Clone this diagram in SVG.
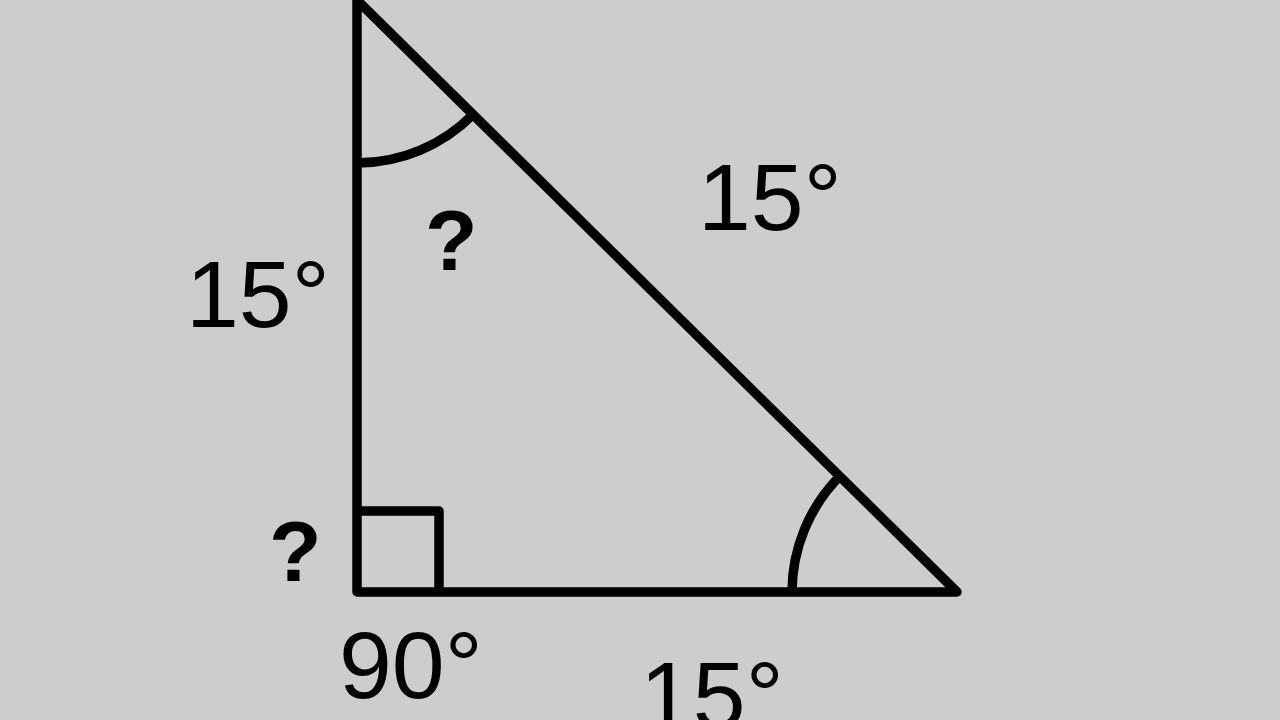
<svg xmlns="http://www.w3.org/2000/svg" width="1280" height="720" viewBox="0 0 1280 720">
<style>
.ln{fill:none;stroke:#000;stroke-width:9.5;stroke-linejoin:round;stroke-linecap:butt}
.lbl{font-family:"Liberation Sans",Arial,sans-serif;font-size:95px;fill:#000}
.q{font-family:"Liberation Sans",Arial,sans-serif;font-size:86px;font-weight:bold;fill:#000}
</style>
<rect x="0" y="0" width="1280" height="720" fill="#cdcdcd"/>
<g id="triangle">
<path class="ln" d="M357,-10 L357,592 L957,592 L357,0"/>
</g>
<g id="right-angle">
<path class="ln" d="M357,511 L439,511 L439,592"/>
</g>
<g id="arc-top">
<path class="ln" d="M357,163 A163,163 0 0 0 473,114.5"/>
</g>
<g id="arc-right">
<path class="ln" d="M792,592 A165,165 0 0 1 840,476"/>
</g>
<g id="labels">
<text class="lbl" x="698" y="230">15°</text>
<text class="lbl" x="186" y="327">15°</text>
<text class="lbl" x="339" y="698">90°</text>
<text class="lbl" x="640" y="728">15°</text>
<text class="q" x="425" y="270">?</text>
<text class="q" x="269" y="581">?</text>
</g>
</svg>
